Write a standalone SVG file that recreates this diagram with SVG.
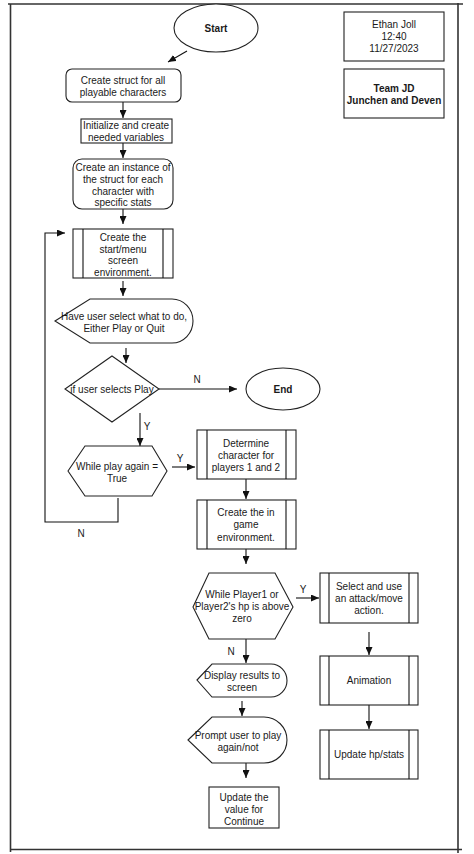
<svg xmlns="http://www.w3.org/2000/svg" width="474" height="854" viewBox="0 0 474 854">
<defs>
<marker id="ah" markerWidth="8" markerHeight="7" refX="8" refY="3.5" orient="auto" markerUnits="userSpaceOnUse">
<path d="M0,0 L8,3.5 L0,7 Z" fill="#111"/>
</marker>
<style>
.s{fill:#fff;stroke:#222;stroke-width:1.1}
.t{font-family:"Liberation Sans",Arial,sans-serif;font-size:10px;fill:#1a1a1a;text-anchor:middle;dominant-baseline:central}
.b{font-weight:bold}
.c{fill:none;stroke:#111;stroke-width:1.1}
.a{fill:none;stroke:#111;stroke-width:1.1;marker-end:url(#ah)}
.f{fill:none;stroke:#333;stroke-width:1.6}
</style>
</defs>
<rect width="474" height="854" fill="#fff"/>
<g id="frame">
<line class="f" x1="8" y1="4" x2="463" y2="4"/>
<line class="f" x1="10.5" y1="4" x2="10.5" y2="852"/>
<line class="f" x1="458" y1="3" x2="458" y2="853"/>
<line class="f" x1="10" y1="849.5" x2="462" y2="849.5"/>
</g>
<g id="connectors">
<line class="a" x1="187" y1="51" x2="168" y2="62"/>
<line class="a" x1="123" y1="102" x2="123" y2="118"/>
<line class="a" x1="123" y1="143" x2="123" y2="158"/>
<line class="a" x1="123" y1="209" x2="123" y2="224"/>
<line class="a" x1="123" y1="281" x2="123" y2="296"/>
<line class="a" x1="126" y1="348" x2="126" y2="363"/>
<line class="a" x1="159" y1="389" x2="237" y2="389"/>
<line class="a" x1="140" y1="413" x2="140" y2="446"/>
<polyline class="a" points="118,498 118,522 45,522 45,233 65,233"/>
<line class="a" x1="172" y1="467" x2="195" y2="467"/>
<line class="a" x1="246" y1="479" x2="246" y2="499"/>
<line class="a" x1="246" y1="549" x2="246" y2="564"/>
<line class="a" x1="296" y1="598" x2="319" y2="598"/>
<line class="a" x1="369" y1="632" x2="369" y2="655"/>
<line class="a" x1="369" y1="705" x2="369" y2="729"/>
<line class="a" x1="246" y1="639" x2="246" y2="663"/>
<line class="a" x1="242" y1="701" x2="242" y2="716"/>
<line class="a" x1="246" y1="763" x2="246" y2="778"/>
<text class="t" x="197" y="379">N</text>
<text class="t" x="147" y="426">Y</text>
<text class="t" x="180" y="458">Y</text>
<text class="t" x="81" y="533">N</text>
<text class="t" x="303" y="589">Y</text>
<text class="t" x="231" y="651">N</text>
</g>
<g id="start">
<ellipse class="s" cx="216" cy="28" rx="42" ry="24"/>
<text class="t b" x="216" y="28">Start</text>
</g>
<g id="info">
<rect class="s" x="344" y="12" width="100" height="49"/>
<text class="t" x="394" y="24">Ethan Joll</text>
<text class="t" x="394" y="36">12:40</text>
<text class="t" x="394" y="48">11/27/2023</text>
</g>
<g id="team">
<rect class="s" x="344" y="69" width="100" height="49"/>
<text class="t b" x="394" y="88">Team JD</text>
<text class="t b" x="394" y="100">Junchen and Deven</text>
</g>
<g id="struct">
<rect class="s" x="66" y="69" width="115" height="33" rx="6"/>
<text class="t" x="123" y="80">Create struct for all</text>
<text class="t" x="123" y="92">playable characters</text>
</g>
<g id="init">
<rect class="s" x="81" y="119" width="91" height="24"/>
<text class="t" x="126" y="125">Initialize and create</text>
<text class="t" x="126" y="137">needed variables</text>
</g>
<g id="instance">
<rect class="s" x="73" y="159" width="100" height="50" rx="9"/>
<text class="t" x="123" y="167">Create an instance of</text>
<text class="t" x="123" y="179">the struct for each</text>
<text class="t" x="123" y="191">character with</text>
<text class="t" x="123" y="202">specific stats</text>
</g>
<g id="menu">
<rect class="s" x="73" y="229" width="100" height="49"/>
<line class="c" x1="83" y1="229" x2="83" y2="278"/>
<line class="c" x1="163" y1="229" x2="163" y2="278"/>
<text class="t" x="123" y="237">Create the</text>
<text class="t" x="123" y="249">start/menu</text>
<text class="t" x="123" y="260">screen</text>
<text class="t" x="123" y="272">environment.</text>
</g>
<g id="select">
<path class="s" d="M55,321 L90,299 L172,299 A21,22 0 0 1 172,343 L90,343 Z"/>
<text class="t" x="124" y="316">Have user select what to do,</text>
<text class="t" x="124" y="328">Either Play or Quit</text>
</g>
<g id="ifplay">
<path class="s" d="M112,356 L159,389 L112,422 L65,389 Z"/>
<text class="t" x="112" y="389">if user selects Play</text>
</g>
<g id="end">
<ellipse class="s" cx="283" cy="389" rx="37" ry="21"/>
<text class="t b" x="283" y="389">End</text>
</g>
<g id="playagain">
<path class="s" d="M68,471 L85,446 L152,446 L167,471 L152,496 L85,496 Z"/>
<text class="t" x="117" y="466">While play again =</text>
<text class="t" x="117" y="478">True</text>
</g>
<g id="determine">
<rect class="s" x="197" y="430" width="99" height="49"/>
<line class="c" x1="207" y1="430" x2="207" y2="479"/>
<line class="c" x1="286" y1="430" x2="286" y2="479"/>
<text class="t" x="246" y="443">Determine</text>
<text class="t" x="246" y="455">character for</text>
<text class="t" x="246" y="467">players 1 and 2</text>
</g>
<g id="ingame">
<rect class="s" x="197" y="500" width="99" height="49"/>
<line class="c" x1="207" y1="500" x2="207" y2="549"/>
<line class="c" x1="286" y1="500" x2="286" y2="549"/>
<text class="t" x="246" y="512">Create the in</text>
<text class="t" x="246" y="524">game</text>
<text class="t" x="246" y="537">environment.</text>
</g>
<g id="hploop">
<path class="s" d="M193,607 L209,573 L275,573 L293,607 L275,639 L209,639 Z"/>
<text class="t" x="242" y="594">While Player1 or</text>
<text class="t" x="242" y="606">Player2's hp is above</text>
<text class="t" x="242" y="618">zero</text>
</g>
<g id="attack">
<rect class="s" x="320" y="573" width="98" height="50"/>
<line class="c" x1="329" y1="573" x2="329" y2="623"/>
<line class="c" x1="409" y1="573" x2="409" y2="623"/>
<text class="t" x="369" y="586">Select and use</text>
<text class="t" x="369" y="598">an attack/move</text>
<text class="t" x="369" y="610">action.</text>
</g>
<g id="animation">
<rect class="s" x="320" y="656" width="98" height="49"/>
<line class="c" x1="329" y1="656" x2="329" y2="705"/>
<line class="c" x1="409" y1="656" x2="409" y2="705"/>
<text class="t" x="369" y="680">Animation</text>
</g>
<g id="update">
<rect class="s" x="320" y="730" width="98" height="49"/>
<line class="c" x1="329" y1="730" x2="329" y2="779"/>
<line class="c" x1="409" y1="730" x2="409" y2="779"/>
<text class="t" x="369" y="754">Update hp/stats</text>
</g>
<g id="results">
<path class="s" d="M197,680 L212,664 L271,664 A16,16.5 0 0 1 271,697 L212,697 Z"/>
<text class="t" x="242" y="675">Display results to</text>
<text class="t" x="242" y="687">screen</text>
</g>
<g id="prompt">
<path class="s" d="M188,740 L212,717 L264,717 A23,23 0 0 1 264,763 L212,763 Z"/>
<text class="t" x="238" y="735">Prompt user to play</text>
<text class="t" x="238" y="747">again/not</text>
</g>
<g id="continue">
<rect class="s" x="209" y="787" width="70" height="41"/>
<text class="t" x="244" y="797">Update the</text>
<text class="t" x="244" y="809">value for</text>
<text class="t" x="244" y="821">Continue</text>
</g>
</svg>
